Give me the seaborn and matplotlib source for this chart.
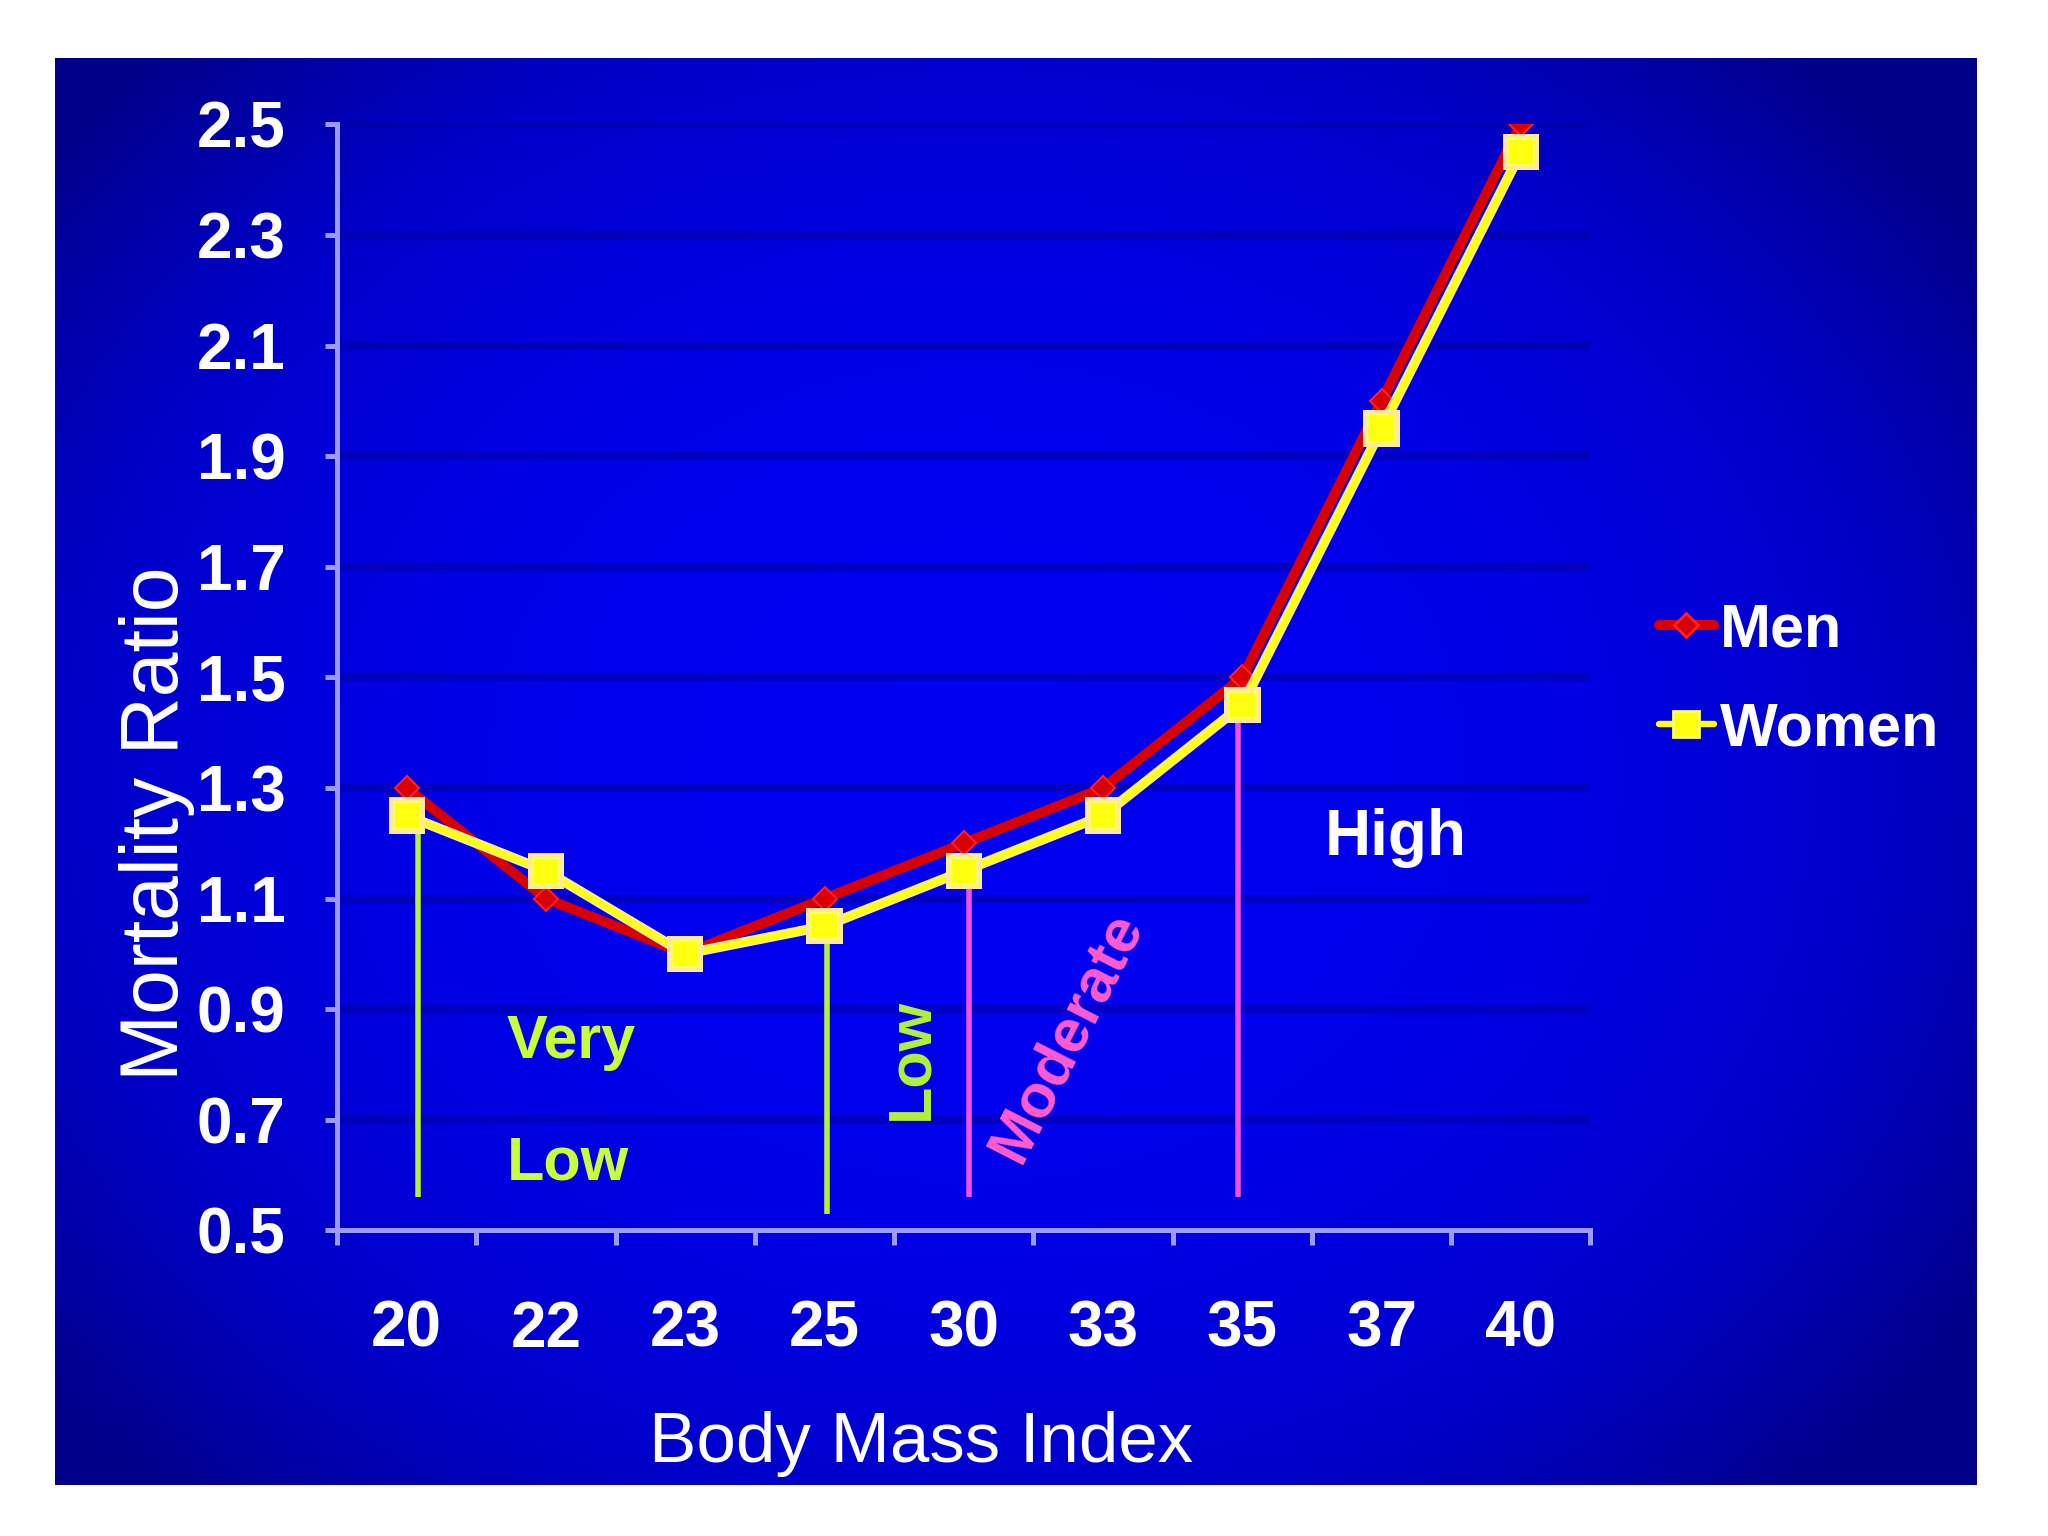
import numpy as np
import pandas as pd
import matplotlib
matplotlib.use("Agg")
import matplotlib.pyplot as plt
import matplotlib.patheffects as pe
from matplotlib.colors import LinearSegmentedColormap
from matplotlib.lines import Line2D
import seaborn as sns

# data
bmi = ["20", "22", "23", "25", "30", "33", "35", "37", "40"]
men = [1.30, 1.10, 1.00, 1.10, 1.20, 1.30, 1.50, 2.00, 2.50]
women = [1.25, 1.15, 1.00, 1.05, 1.15, 1.25, 1.45, 1.95, 2.45]
y_ticks = [0.5, 0.7, 0.9, 1.1, 1.3, 1.5, 1.7, 1.9, 2.1, 2.3, 2.5]

# risk cut-off markers (category position, bottom, top)
cut_pos = [0.08, 3.02, 4.04, 5.97]
cut_low = [0.56, 0.53, 0.56, 0.56]
cut_high = [1.25, 1.05, 1.15, 1.45]
cut_col = ["#b4f03c", "#b4f03c", "#f050e6", "#f050e6"]

df = pd.DataFrame({"bmi": bmi * 2,
                   "ratio": men + women,
                   "sex": ["Men"] * len(bmi) + ["Women"] * len(bmi)})

sns.set_style("white")
plt.rcParams["font.family"] = ["Liberation Sans", "DejaVu Sans"]

fig = plt.figure(figsize=(10.24, 7.68), dpi=200)
fig.patch.set_facecolor("white")

# blue gradient slide background
bg = fig.add_axes([0.027, 0.033, 0.938, 0.929], zorder=-1)
gx, gy = np.meshgrid(np.linspace(0, 1, 400), np.linspace(0, 1, 400))
d = np.sqrt(((gx - 0.48) / 0.62) ** 2 + ((gy - 0.5) / 0.7) ** 2)
cmap = LinearSegmentedColormap.from_list("slide", ["#000088", "#0000c8", "#0000f2"])
bg.imshow(np.clip(1 - d ** 2.5, 0, 1), cmap=cmap, aspect="auto", extent=(0, 1, 0, 1), vmin=0, vmax=1)
bg.set_axis_off()

ax = fig.add_axes([0.1646, 0.199, 0.612, 0.72])
ax.set_facecolor("none")

for yv in y_ticks[1:]:
    ax.axhline(yv, color="#0000a8", lw=3, alpha=0.6, zorder=0)

men_df = df[df["sex"] == "Men"]
women_df = df[df["sex"] == "Women"]
sns.lineplot(data=men_df, x="bmi", y="ratio", color="#d80000", lw=3.6, marker="D",
             markersize=6, markeredgecolor="#ff2020", sort=False, ax=ax, zorder=3)
sns.lineplot(data=women_df, x="bmi", y="ratio", color="#ffff10", lw=2.3, marker="s",
             markersize=9.5, markeredgecolor="#ffff60", sort=False, ax=ax, zorder=4,
             path_effects=[pe.Stroke(linewidth=3.6, foreground="#ffe9a0"), pe.Normal()])

for xp, lo, hi, c in zip(cut_pos, cut_low, cut_high, cut_col):
    ax.vlines(xp, lo, hi, color=c, lw=2, zorder=2)

ax.set_xlim(-0.5, len(bmi) - 0.5)
ax.set_ylim(0.5, 2.5)
ax.set_yticks(y_ticks)
ax.set_yticklabels([f"{v:.1f}" for v in y_ticks])
ax.set_xticks(np.arange(-0.5, len(bmi)), minor=False)
ax.set_xticklabels([])
ax.set_xticks(np.arange(len(bmi)), minor=True)
ax.set_xticklabels(bmi, minor=True)

spine_c = "#9a9aff"
for s in ["top", "right"]:
    ax.spines[s].set_visible(False)
for s in ["left", "bottom"]:
    ax.spines[s].set_color(spine_c)
    ax.spines[s].set_linewidth(1.8)

ax.tick_params(axis="y", direction="out", length=4.5, width=1.8, color=spine_c,
               labelcolor="white", labelsize=23, pad=14, left=True)
ax.tick_params(axis="x", which="major", direction="out", length=5.5, width=1.8,
               color=spine_c, bottom=True)
ax.tick_params(axis="x", which="minor", length=0, labelcolor="white", labelsize=23, pad=25)
for lab in ax.get_yticklabels() + ax.get_xticklabels(minor=True):
    lab.set_fontweight("bold")

ax.set_xlabel("Body Mass Index", color="white", fontsize=25.5)
ax.set_ylabel("Mortality Ratio", color="white", fontsize=29)
ax.xaxis.set_label_coords(0.466, -0.163)
ax.yaxis.set_label_coords(-0.113, 0.368)

ax.text(1.18, 0.84, "Very", color="#c8ff3c", fontsize=22, fontweight="bold",
        ha="center", va="center")
ax.text(1.16, 0.62, "Low", color="#c8ff3c", fontsize=22, fontweight="bold",
        ha="center", va="center")
ax.text(3.63, 0.81, "Low", color="#b4f03c", fontsize=22, fontweight="bold",
        rotation=90, ha="center", va="center")
ax.text(4.74, 0.85, "Moderate", color="#ff5cd0", fontsize=22, fontweight="bold",
        rotation=63, ha="center", va="center")
ax.text(7.10, 1.21, "High", color="white", fontsize=23, fontweight="bold",
        ha="center", va="center")

handles = [Line2D([], [], color="#d80000", lw=3.6, marker="D", markersize=6,
                  markeredgecolor="#ff2020"),
           Line2D([], [], color="#ffff10", lw=2.3, marker="s", markersize=9.5,
                  markeredgecolor="#ffff60")]
leg = fig.legend(handles, ["Men", "Women"], loc="center left",
                 bbox_to_anchor=(0.81, 0.557), frameon=False, handlelength=0.9,
                 handletextpad=0.1, labelspacing=0.7, fontsize=22,
                 borderpad=0, borderaxespad=0)
for t in leg.get_texts():
    t.set_color("white")
    t.set_fontweight("bold")

fig.savefig("out.png", dpi=200)
